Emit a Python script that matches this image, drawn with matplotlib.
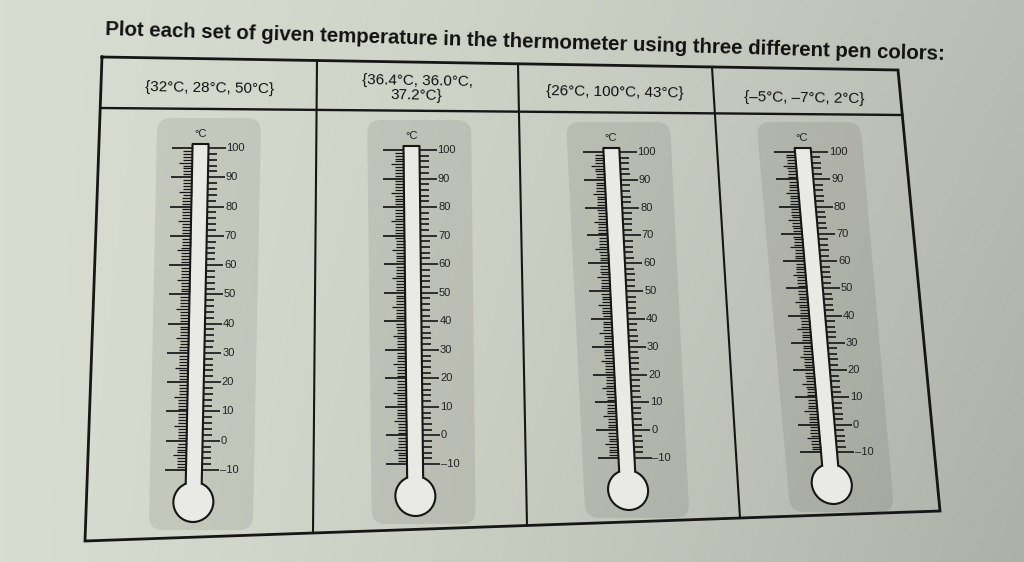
import numpy as np
import matplotlib
matplotlib.use("Agg")
import matplotlib.pyplot as plt
from matplotlib.patches import Rectangle, Circle, FancyBboxPatch
from matplotlib.collections import LineCollection
from matplotlib.transforms import Affine2D

plt.rcParams['font.family'] = ['Liberation Sans', 'DejaVu Sans']

title = "Plot each set of given temperature in the thermometer using three different pen colors:"
headers = ["{32°C, 28°C, 50°C}", "{36.4°C, 36.0°C,\n37.2°C}",
           "{26°C, 100°C, 43°C}", "{–5°C, –7°C, 2°C}"]
scale_min = -10
scale_max = 100
scale_labels = [100, 90, 80, 70, 60, 50, 40, 30, 20, 10, 0, -10]
unit = "°C"

# layout (pixels): where the 100 and -10 marks sit
therm_top = [(200.5, 148), (411.5, 150), (611.5, 152), (803, 152)]
therm_bot = [(194, 470), (415, 464), (626.5, 458), (829, 452)]
header_pos = [(210, 88), (417, 88), (615, 92), (804, 98)]

# table corners and column lines (photo is a bit skewed)
TL, TR, BR, BL = (102, 57), (898, 70), (940, 511), (85, 541)
sep_top_x = [317, 518, 712]
sep_bot_x = [313, 527, 740]

INK = '#161616'
TUBE = '#e9eae5'

W, H = 1024, 562
fig = plt.figure(figsize=(W / 100, H / 100), dpi=100)
ax = fig.add_axes([0, 0, 1, 1])
ax.set_xlim(0, W)
ax.set_ylim(H, 0)
ax.axis('off')

# paper background, lighter on the left, darker to the lower right
GX, GY = np.meshgrid(np.linspace(0, 1, 256), np.linspace(0, 1, 128))
left = np.array([217, 221, 209]) / 255
right = np.array([186, 189, 180]) / 255
shade = (GX ** 1.4)[..., None]
bg = left * (1 - shade) + right * shade - (0.05 * GX * GY)[..., None]
ax.imshow(np.clip(bg, 0, 1), extent=[0, W, H, 0], aspect='auto',
          interpolation='bilinear', zorder=0)


def on_line(p, q, x=None, y=None):
    if x is not None:
        t = (x - p[0]) / (q[0] - p[0])
    else:
        t = (y - p[1]) / (q[1] - p[1])
    return (p[0] + t * (q[0] - p[0]), p[1] + t * (q[1] - p[1]))


# table
box = [TL, TR, BR, BL, TL]
ax.plot([p[0] for p in box], [p[1] for p in box], color=INK, lw=2.0, zorder=5,
        solid_joinstyle='miter')
hl = on_line(TL, BL, y=108)
hr = on_line(TR, BR, y=115)
ax.plot([hl[0], hr[0]], [hl[1], hr[1]], color=INK, lw=1.7, zorder=5)
for xt, xb in zip(sep_top_x, sep_bot_x):
    pt = on_line(TL, TR, x=xt)
    pb = on_line(BL, BR, x=xb)
    ax.plot([pt[0], pb[0]], [pt[1], pb[1]], color=INK, lw=1.5, zorder=5)

# title and headers
ax.text(105, 30, title, fontsize=14.7, fontweight='bold', color='#111111',
        rotation=-1.7, rotation_mode='anchor', ha='left', va='center')
for (hx, hy), lab in zip(header_pos, headers):
    ax.text(hx, hy, lab, fontsize=11, color='#111111', ha='center', va='center',
            rotation=-1, linespacing=1.05)


def draw_thermometer(top, bot):
    k = (bot[1] - top[1]) / (scale_max - scale_min)   # px per degree
    s = (bot[0] - top[0]) / (bot[1] - top[1])         # lean in the photo
    tr = Affine2D().from_values(1, 0, s, 1, top[0], top[1]) + ax.transData

    def v(T):
        return (scale_max - T) * k

    hw = 8
    r = 20
    cy = v(scale_min) + 32

    panel = FancyBboxPatch((-44, -30), 104, cy + r + 38,
                           boxstyle='round,pad=0,rounding_size=14',
                           fc='k', ec='none', alpha=0.08, transform=tr, zorder=1)
    ax.add_patch(panel)

    ax.add_patch(Circle((0, cy), r, fc=TUBE, ec=INK, lw=1.5, transform=tr, zorder=2))
    ax.add_patch(Rectangle((-hw, -4), 2 * hw, cy + 4, fc=TUBE, ec='none',
                           transform=tr, zorder=3))
    join = cy - np.sqrt(r ** 2 - hw ** 2)
    ax.plot([-hw, -hw, hw, hw], [join, -4, -4, join], color=INK, lw=1.5,
            transform=tr, zorder=4)

    # left scale: every degree, longer at 5 and 10
    left_segs, left_w = [], []
    for T in range(scale_min, scale_max + 1):
        L = 21 if T % 10 == 0 else (13 if T % 5 == 0 else 9)
        left_segs.append([(-hw, v(T)), (-hw - L, v(T))])
        left_w.append(1.25 if T % 10 == 0 else 0.9)
    ax.add_collection(LineCollection(left_segs, colors=INK, linewidths=left_w,
                                     transform=tr, zorder=4))
    # right scale: every two degrees
    right_segs = []
    for T in range(scale_min, scale_max + 1, 2):
        L = 17 if T % 10 == 0 else 9
        right_segs.append([(hw, v(T)), (hw + L, v(T))])
    ax.add_collection(LineCollection(right_segs, colors=INK, linewidths=1.2,
                                     transform=tr, zorder=4))

    for T in scale_labels:
        lab = str(T).replace('-', '–')
        ax.text(hw + 18, v(T), lab, fontsize=8, color='#222222',
                ha='left', va='center', transform=tr, zorder=4)
    ax.text(0, -14, unit, fontsize=8, color='#222222', ha='center',
            va='center', transform=tr, zorder=4)


for top, bot in zip(therm_top, therm_bot):
    draw_thermometer(top, bot)

fig.savefig('out.png', dpi=100)
